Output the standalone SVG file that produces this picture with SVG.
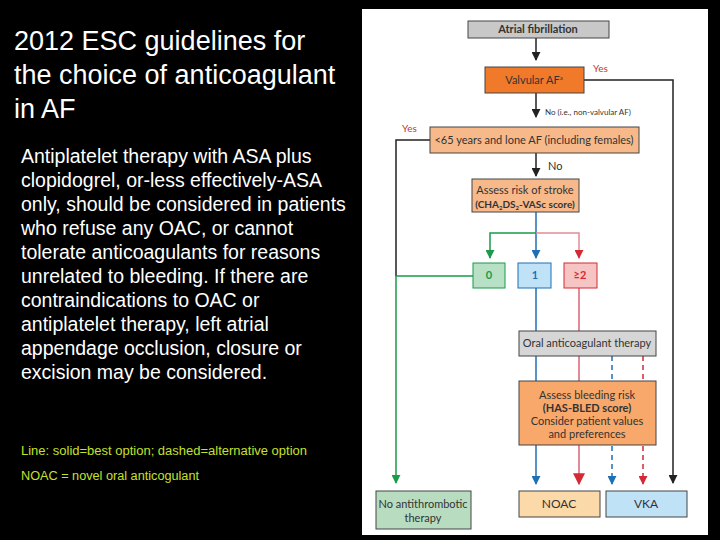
<svg xmlns="http://www.w3.org/2000/svg" width="720" height="540" viewBox="0 0 720 540">
<defs>
<style>
.t{font-family:"Liberation Sans",Arial,sans-serif;fill:#fff}
.b{font-family:"Lato","Liberation Sans",sans-serif;font-size:11px;fill:#333;text-anchor:middle}
.s{text-anchor:start}
.g{font-family:"Liberation Sans",sans-serif;font-size:12px;fill:#c6e12b}
.y{font-family:"Lato",sans-serif;font-size:10px;fill:#c0392b}
.k{stroke:#222;stroke-width:1.5;fill:none}
</style>
<marker id="ak" viewBox="0 0 10 10" refX="9" refY="5" markerWidth="6" markerHeight="6" orient="auto"><path d="M0,0L10,5L0,10z" fill="#222"/></marker>
<marker id="ag" viewBox="0 0 10 10" refX="9" refY="5" markerWidth="6" markerHeight="6" orient="auto"><path d="M0,0L10,5L0,10z" fill="#1a9a4a"/></marker>
<marker id="ab" viewBox="0 0 10 10" refX="9" refY="5" markerWidth="6" markerHeight="6" orient="auto"><path d="M0,0L10,5L0,10z" fill="#1f6fb5"/></marker>
<marker id="ar" viewBox="0 0 10 10" refX="9" refY="5" markerWidth="6" markerHeight="6" orient="auto"><path d="M0,0L10,5L0,10z" fill="#d42a35"/></marker>
</defs>
<rect width="720" height="540" fill="#000"/>
<g id="text">
<text class="t" font-size="27"><tspan x="14" y="50">2012 ESC guidelines for</tspan><tspan x="14" y="84">the choice of anticoagulant</tspan><tspan x="14" y="118">in AF</tspan></text>
<text class="t" font-size="19.5"><tspan x="21" y="163">Antiplatelet therapy with ASA plus</tspan><tspan x="21" y="187">clopidogrel, or-less effectively-ASA</tspan><tspan x="21" y="211">only, should be considered in patients</tspan><tspan x="21" y="235">who refuse any OAC, or cannot</tspan><tspan x="21" y="259">tolerate anticoagulants for reasons</tspan><tspan x="21" y="283">unrelated to bleeding. If there are</tspan><tspan x="21" y="307">contraindications to OAC or</tspan><tspan x="21" y="331">antiplatelet therapy, left atrial</tspan><tspan x="21" y="355">appendage occlusion, closure or</tspan><tspan x="21" y="379">excision may be considered.</tspan></text>
<text class="g" x="21" y="455" textLength="286" lengthAdjust="spacingAndGlyphs">Line: solid=best option; dashed=alternative option</text>
<text class="g" x="21" y="480" textLength="178" lengthAdjust="spacingAndGlyphs">NOAC = novel oral anticogulant</text>
</g>
<rect x="362" y="9" width="346" height="526" fill="#fff"/>
<g id="connectors">
<path class="k" d="M536,38V60" marker-end="url(#ak)"/>
<path class="k" d="M536,93V117" marker-end="url(#ak)"/>
<path class="k" d="M536,153V176" marker-end="url(#ak)"/>
<path class="k" d="M584,80H673V483" marker-end="url(#ak)"/>
<path class="k" d="M430,140H396V276"/>
<path d="M396,276V483" stroke="#1a9a4a" stroke-width="1.5" fill="none" marker-end="url(#ag)"/>
<path d="M473,276H396" stroke="#1a9a4a" stroke-width="1.5"/>
<path d="M536,212V258" stroke="#1f6fb5" stroke-width="1.5" fill="none" marker-end="url(#ab)"/>
<path d="M536,233H490V258" stroke="#1a9a4a" stroke-width="1.5" fill="none" marker-end="url(#ag)"/>
<path d="M536,233H579V258" stroke="#e48a96" stroke-width="1.5" fill="none" marker-end="url(#ar)"/>
<path d="M536,288V484" stroke="#1f6fb5" stroke-width="1.5" fill="none" marker-end="url(#ab)"/>
<path d="M579,288V484" stroke="#e48a96" stroke-width="2" fill="none" marker-end="url(#ar)"/>
<path d="M612,356V484" stroke="#1f6fb5" stroke-width="1.5" stroke-dasharray="5,4" fill="none" marker-end="url(#ab)"/>
<path d="M643,356V484" stroke="#d42a35" stroke-width="1.5" stroke-dasharray="5,4" fill="none" marker-end="url(#ar)"/>
</g>
<text class="y" x="593" y="72">Yes</text>
<text class="y" x="402" y="132">Yes</text>
<text class="b s" x="545" y="115" font-size="8" style="font-size:8px">No (i.e., non-valvular AF)</text>
<text class="b s" x="548" y="170">No</text>
<g id="af"><rect x="468" y="21" width="141" height="17" fill="#c8c8c8" stroke="#444"/><text class="b" x="538" y="33" font-weight="bold">Atrial fibrillation</text></g>
<g id="valv"><rect x="485" y="67" width="99" height="26" fill="#f07a2a" stroke="#444"/><text class="b" x="534" y="84">Valvular AF<tspan font-size="6" dy="-4">a</tspan></text></g>
<g id="lone"><rect x="430" y="127" width="209" height="26" fill="#f7b98a" stroke="#444"/><text class="b" x="534" y="144">&lt;65 years and lone AF (including females)</text></g>
<g id="stroke"><rect x="472" y="179" width="107" height="33" fill="#f7b98a" stroke="#444"/><text class="b" x="525" y="194">Assess risk of stroke</text><text class="b" x="525" y="208" font-weight="bold" style="font-size:10px">(CHA<tspan font-size="6" dy="2">2</tspan><tspan dy="-2">DS</tspan><tspan font-size="6" dy="2">2</tspan><tspan dy="-2">-VASc score)</tspan></text></g>
<g id="s0"><rect x="473" y="263" width="32" height="25" fill="#b7e0c4" stroke="#1a9a4a"/><text class="b" x="489" y="279" font-weight="bold" style="fill:#1a9a4a">0</text></g>
<g id="s1"><rect x="518" y="263" width="33" height="25" fill="#bfe2f7" stroke="#1f6fb5"/><text class="b" x="535" y="279" style="fill:#1f6fb5" font-weight="bold">1</text></g>
<g id="s2"><rect x="564" y="263" width="33" height="25" fill="#f7c4c4" stroke="#d42a35"/><text class="b" x="580" y="279" style="fill:#d42a35" font-weight="bold">≥2</text></g>
<g id="oac"><rect x="519" y="331" width="137" height="25" fill="#d6d6d6" stroke="#444"/><text class="b" x="587" y="347">Oral anticoagulant therapy</text></g>
<g id="bleed"><rect x="519" y="381" width="137" height="64" fill="#f7a86a" stroke="#444"/><text class="b" x="587" y="399">Assess bleeding risk</text><text class="b" x="587" y="412" font-weight="bold">(HAS-BLED score)</text><text class="b" x="587" y="425">Consider patient values</text><text class="b" x="587" y="438">and preferences</text></g>
<g id="none"><rect x="376" y="491" width="95" height="38" fill="#b7dcc0" stroke="#444"/><text class="b" x="423" y="508">No antithrombotic</text><text class="b" x="423" y="522">therapy</text></g>
<g id="noac"><rect x="519" y="491" width="81" height="26" fill="#fbd9a8" stroke="#444"/><text class="b" x="559" y="508" style="font-size:12px">NOAC</text></g>
<g id="vka"><rect x="606" y="491" width="81" height="26" fill="#bfe2f7" stroke="#444"/><text class="b" x="646" y="508" style="font-size:12px">VKA</text></g>
</svg>
